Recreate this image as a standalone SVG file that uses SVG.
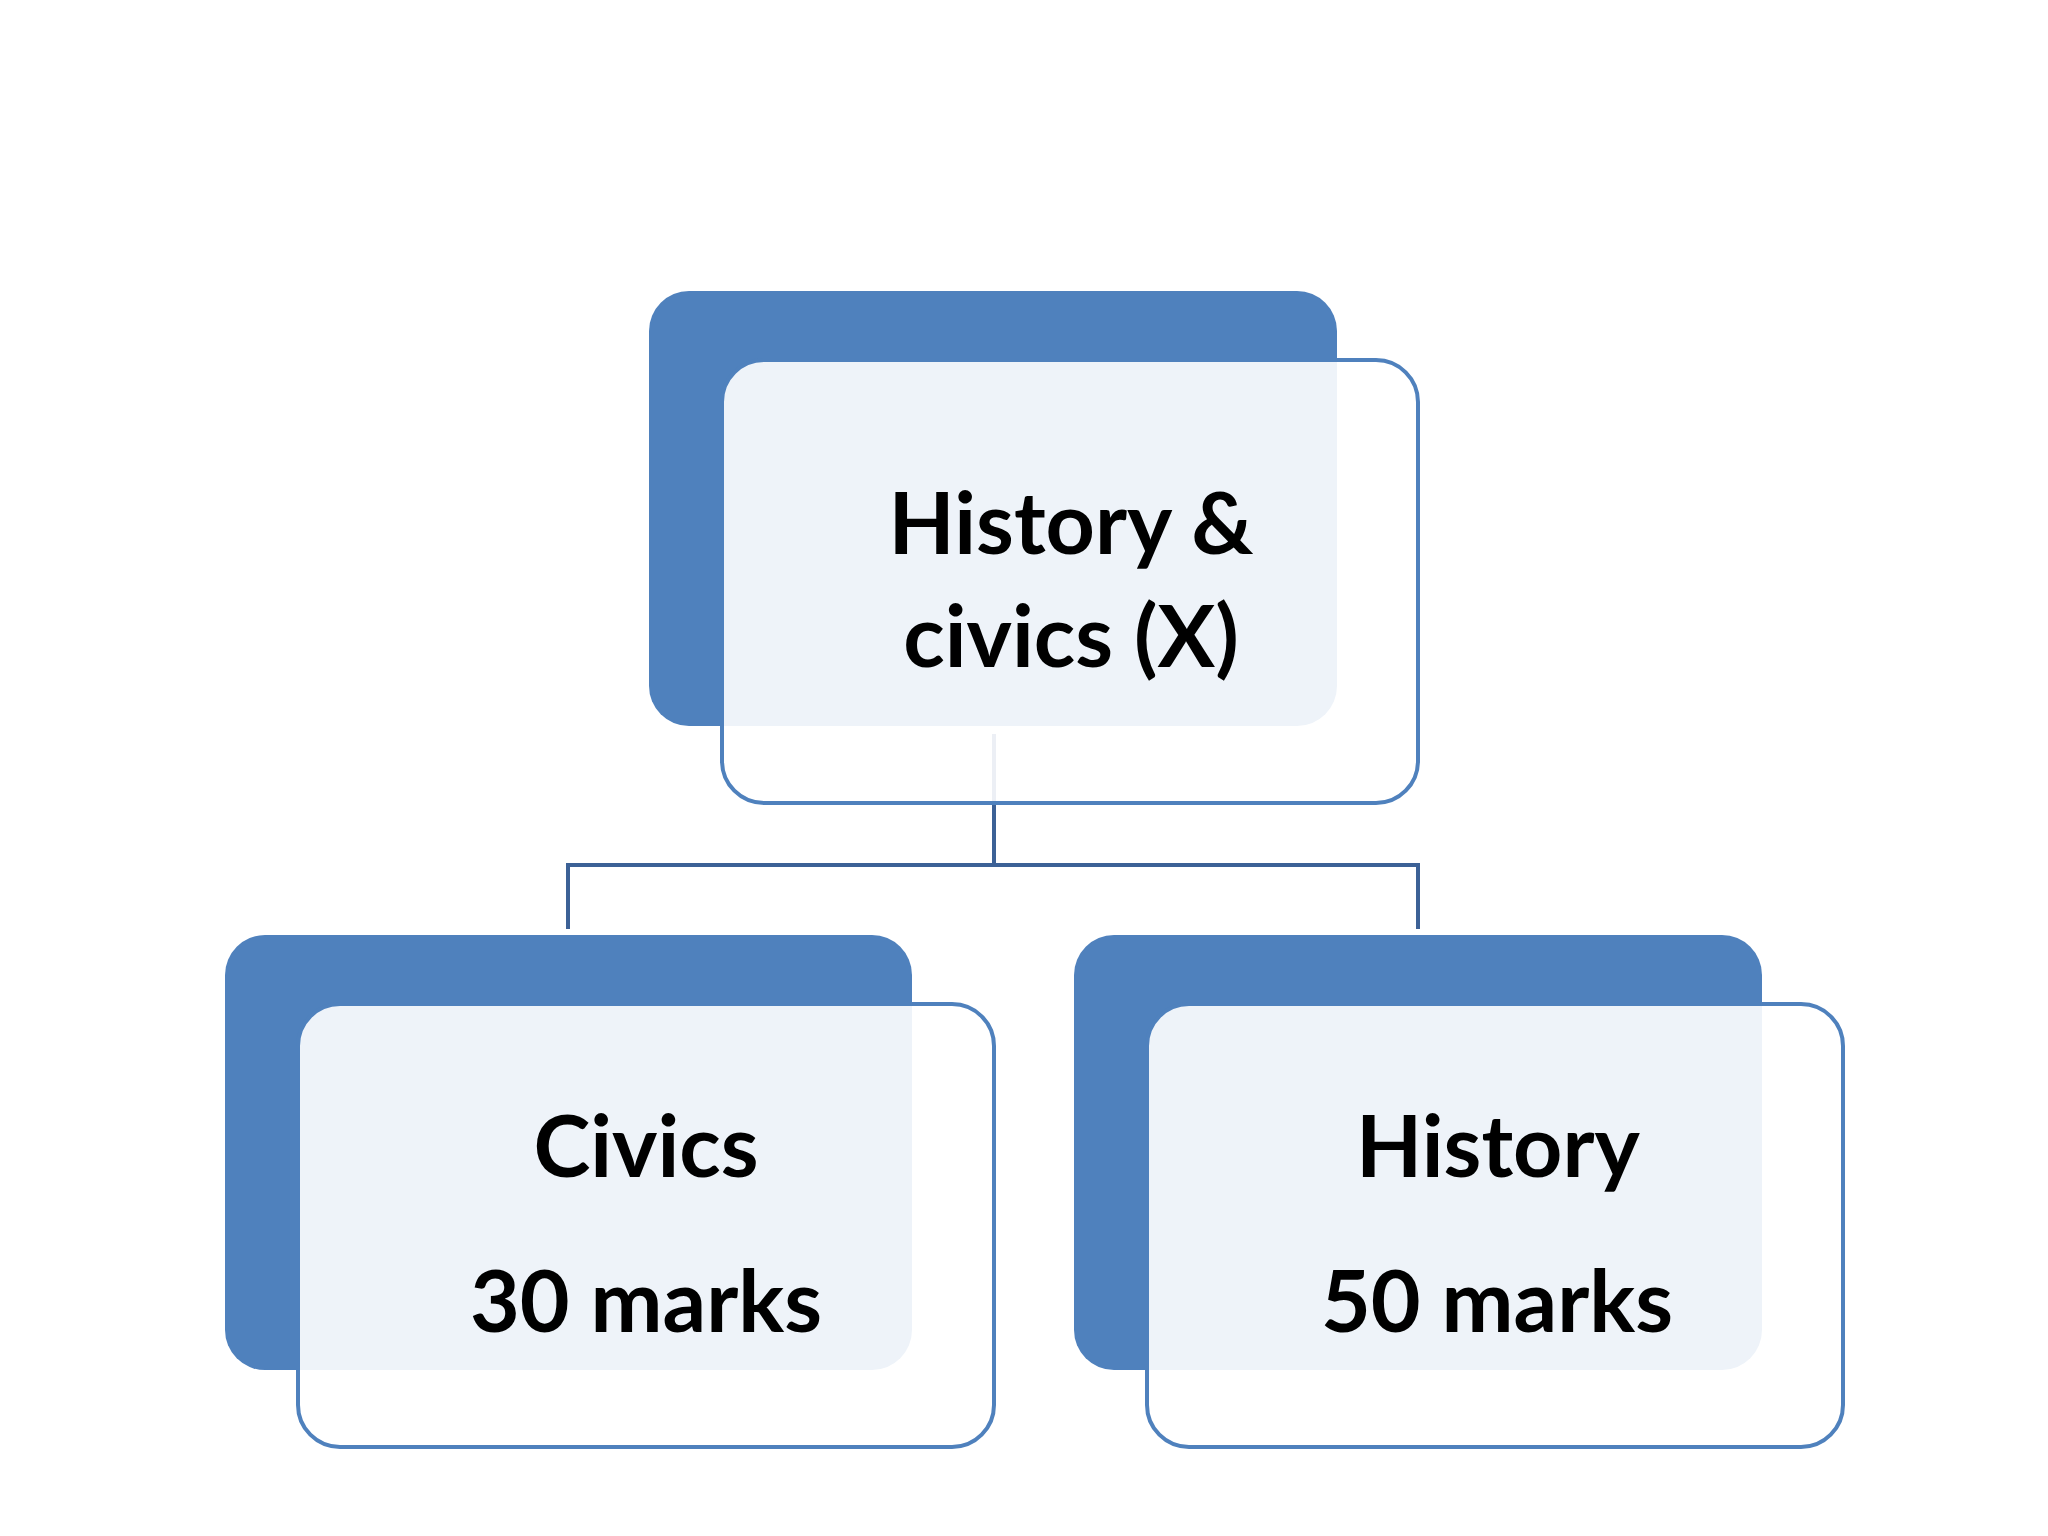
<svg xmlns="http://www.w3.org/2000/svg" width="2048" height="1536" viewBox="0 0 2048 1536">
<style>
.back{fill:#4F81BD}
.front{fill:#fff;fill-opacity:0.9;stroke:#4F81BD;stroke-width:4}
.t{font-family:Lato,"Open Sans",sans-serif;font-weight:bold;font-size:86px;fill:#000;text-anchor:middle}
.c{fill:none;stroke:#3C6196;stroke-width:4}
</style>
<rect width="2048" height="1536" fill="#fff"/>
<g id="connectors">
<path class="c" d="M994 734V865M568 929V865H1418V929"/>
</g>
<g id="top">
<rect class="back" x="649" y="291" width="688" height="435" rx="40"/>
<rect class="front" x="722" y="360" width="696" height="443" rx="42"/>
<text class="t" x="1071" y="554">History &amp;</text>
<text class="t" x="1071" y="667">civics (X)</text>
</g>
<g id="civics">
<rect class="back" x="225" y="935" width="687" height="435" rx="40"/>
<rect class="front" x="298" y="1004" width="696" height="443" rx="42"/>
<text class="t" x="646" y="1177">Civics</text>
<text class="t" x="646" y="1332">30 marks</text>
</g>
<g id="history">
<rect class="back" x="1074" y="935" width="688" height="435" rx="40"/>
<rect class="front" x="1147" y="1004" width="696" height="443" rx="42"/>
<text class="t" x="1498" y="1177">History</text>
<text class="t" x="1497" y="1332">50 marks</text>
</g>
</svg>
